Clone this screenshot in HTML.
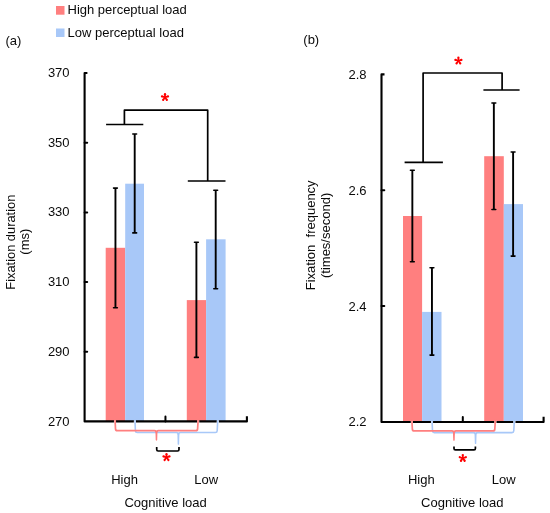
<!DOCTYPE html>
<html><head><meta charset="utf-8">
<style>
html,body{margin:0;padding:0;background:#fff;}
body{width:550px;height:513px;overflow:hidden;}
svg{display:block;will-change:transform;}
text{font-family:"Liberation Sans", sans-serif;font-size:13px;fill:#0a0a0a;}
.ax{stroke:#000;stroke-width:2.1;fill:none;stroke-linecap:butt;stroke-linejoin:round;}
.axr{stroke:#000;stroke-width:2;fill:none;stroke-linecap:round;}
.eb{stroke:#000;stroke-width:1.9;fill:none;}
.ec{stroke:#000;stroke-width:1.6;fill:none;stroke-linecap:round;}
.br{stroke:#000;stroke-width:1.7;fill:none;stroke-linejoin:round;}
.rb{fill:#ff7f7f;}
.bb{fill:#a8c8f8;}
.rl{stroke:#ff7f7f;stroke-width:1.7;fill:none;stroke-linejoin:round;}
.bl{stroke:#a8c8f8;stroke-width:1.6;fill:none;stroke-linejoin:round;}
.halo{stroke:#fff;stroke-width:2.1;fill:none;}
</style></head>
<body>
<svg width="550" height="513" viewBox="0 0 550 513">
<defs><g id="star" fill="#ff0000"><path d="M-0.6,0 L-1.15,-3.15 A1.15,1.15 0 0 1 1.15,-3.15 L0.6,0 Z" transform="rotate(0)"/><path d="M-0.6,0 L-1.15,-3.15 A1.15,1.15 0 0 1 1.15,-3.15 L0.6,0 Z" transform="rotate(72)"/><path d="M-0.6,0 L-1.15,-3.15 A1.15,1.15 0 0 1 1.15,-3.15 L0.6,0 Z" transform="rotate(144)"/><path d="M-0.6,0 L-1.15,-3.15 A1.15,1.15 0 0 1 1.15,-3.15 L0.6,0 Z" transform="rotate(216)"/><path d="M-0.6,0 L-1.15,-3.15 A1.15,1.15 0 0 1 1.15,-3.15 L0.6,0 Z" transform="rotate(288)"/><circle r="1.3"/></g></defs>
<rect x="56" y="6" width="8.5" height="8.7" class="rb"/>
<rect x="56" y="28.5" width="8.5" height="8.5" class="bb"/>
<text x="67.5" y="14.3">High perceptual load</text>
<text x="67.5" y="36.8">Low perceptual load</text>
<text x="5.5" y="45.3">(a)</text>
<text x="303.3" y="44.1">(b)</text>
<rect x="105.7" y="247.8" width="19.5" height="173.6" class="rb"/>
<rect x="125.2" y="183.7" width="18.8" height="237.7" class="bb"/>
<rect x="186.8" y="300.1" width="19.3" height="121.3" class="rb"/>
<rect x="206.1" y="239.3" width="19.5" height="182.1" class="bb"/>
<path class="ax" d="M87.4,73 H84.6 V421.4 H246.9 V416.3"/>
<path class="axr" d="M84.6,142.7 H87.2 M84.6,212.4 H87.2 M84.6,282.1 H87.2 M84.6,351.8 H87.2 M165.45,421.4 V416.4"/>
<path class="eb" d="M115.45,188.1 V307.7"/>
<path class="ec" d="M113.55,188.1 H117.35 M113.55,307.7 H117.35"/>
<path class="eb" d="M134.7,134 V232.9"/>
<path class="ec" d="M132.8,134 H136.6 M132.8,232.9 H136.6"/>
<path class="eb" d="M196.4,242.2 V357.4"/>
<path class="ec" d="M194.5,242.2 H198.3 M194.5,357.4 H198.3"/>
<path class="eb" d="M215.7,190.2 V288.7"/>
<path class="ec" d="M213.8,190.2 H217.6 M213.8,288.7 H217.6"/>
<path class="br" d="M124.4,124.5 V110.2 H207.7 V181"/>
<path class="br" d="M106.1,124.5 H143.3 M187.8,181 H225.5"/>
<use href="#star" x="165" y="97.3"/>
<path class="halo" d="M115,420.2 V423 M134.9,420.2 V423 M198.2,420.2 V423 M217.8,420.2 V423"/>
<path class="bl" d="M134.9,419.2 L135.4,430.7 Q135.5,432.5 137.2,432.5 H176.4 Q178.4,432.5 178.4,434.9 M178.4,434.9 Q178.4,432.5 180.4,432.5 H215.4 Q217.1,432.5 217.2,430.7 L217.8,419.2"/>
<path fill="#a8c8f8" d="M177.4,434.3 L177.65,444.3 Q178.4,445.4 179.15,444.3 L179.4,434.3 Z"/>
<path class="rl" d="M115,419.2 L115.5,428.9 Q115.6,430.7 117.3,430.7 H154.45 Q156.45,430.7 156.45,433.1 M156.45,433.1 Q156.45,430.7 158.45,430.7 H195.8 Q197.5,430.7 197.6,428.9 L198.2,419.2"/>
<path fill="#ff7f7f" d="M155.45,432.5 L155.7,440.1 Q156.45,441.2 157.2,440.1 L157.45,432.5 Z"/>
<path class="br" d="M156.7,447 V449.6 Q156.7,451 158.1,451 H177.6 Q179,451 179,449.6 V447"/>
<use href="#star" x="166.5" y="457.4"/>
<text x="69.6" y="77.2" text-anchor="end">370</text>
<text x="69.6" y="146.8" text-anchor="end">350</text>
<text x="69.6" y="216.4" text-anchor="end">330</text>
<text x="69.6" y="286" text-anchor="end">310</text>
<text x="69.6" y="355.6" text-anchor="end">290</text>
<text x="69.6" y="425.5" text-anchor="end">270</text>
<text transform="translate(15.1,242.2) rotate(-90)" text-anchor="middle" style="font-size:12.85px">Fixation duration</text>
<text transform="translate(28.6,241.7) rotate(-90)" text-anchor="middle">(ms)</text>
<text x="124.5" y="484" text-anchor="middle">High</text>
<text x="206.2" y="484" text-anchor="middle">Low</text>
<text x="165.6" y="507.2" text-anchor="middle">Cognitive load</text>
<rect x="403" y="216" width="19.1" height="206" class="rb"/>
<rect x="422.1" y="311.9" width="19.4" height="110.1" class="bb"/>
<rect x="484.2" y="156.2" width="19.6" height="265.8" class="rb"/>
<rect x="503.8" y="204.1" width="19.2" height="217.9" class="bb"/>
<path class="ax" d="M384.5,74.4 H381.5 V422.0 H543.6 V416.8"/>
<path class="axr" d="M381.5,190.3 H384.3 M381.5,306.1 H384.3 M462.8,422.0 V416.9"/>
<path class="eb" d="M412.35,170.3 V261.8"/>
<path class="ec" d="M410.45,170.3 H414.25 M410.45,261.8 H414.25"/>
<path class="eb" d="M431.95,267.8 V355.1"/>
<path class="ec" d="M430.05,267.8 H433.85 M430.05,355.1 H433.85"/>
<path class="eb" d="M493.85,102.95 V209.5"/>
<path class="ec" d="M491.95,102.95 H495.75 M491.95,209.5 H495.75"/>
<path class="eb" d="M513.1,152 V256.1"/>
<path class="ec" d="M511.2,152 H515 M511.2,256.1 H515"/>
<path class="br" d="M423.1,162.4 V73 H502.1 V90"/>
<path class="br" d="M404.6,162.4 H442.9 M483.4,90 H519.6"/>
<use href="#star" x="458.4" y="60.8"/>
<path class="halo" d="M411.85,420.8 V423.6 M432,420.8 V423.6 M495.4,420.8 V423.6 M514.4,420.8 V423.6"/>
<path class="bl" d="M432,419.8 L432.5,430.8 Q432.6,432.6 434.3,432.6 H473.55 Q475.55,432.6 475.55,435 M475.55,435 Q475.55,432.6 477.55,432.6 H512 Q513.7,432.6 513.8,430.8 L514.4,419.8"/>
<path fill="#a8c8f8" d="M474.55,434.4 L474.8,443.4 Q475.55,444.5 476.3,443.4 L476.55,434.4 Z"/>
<path class="rl" d="M411.85,419.8 L412.35,429.1 Q412.45,430.9 414.15,430.9 H451.95 Q453.95,430.9 453.95,433.3 M453.95,433.3 Q453.95,430.9 455.95,430.9 H493 Q494.7,430.9 494.8,429.1 L495.4,419.8"/>
<path fill="#ff7f7f" d="M452.95,432.7 L453.2,440.3 Q453.95,441.4 454.7,440.3 L454.95,432.7 Z"/>
<path class="br" d="M454,446.6 V448.4 Q454,449.8 455.4,449.8 H474 Q475.4,449.8 475.4,448.4 V446.6"/>
<use href="#star" x="462.8" y="458.2"/>
<text x="366.5" y="78.5" text-anchor="end">2.8</text>
<text x="366.5" y="194.8" text-anchor="end">2.6</text>
<text x="366.5" y="310.5" text-anchor="end">2.4</text>
<text x="366.5" y="426.4" text-anchor="end">2.2</text>
<text transform="translate(315.3,235.3) rotate(-90)" text-anchor="middle" xml:space="preserve">Fixation  frequency</text>
<text transform="translate(329.5,235.4) rotate(-90)" text-anchor="middle">(times/second)</text>
<text x="421.3" y="484.3" text-anchor="middle">High</text>
<text x="503.8" y="484.3" text-anchor="middle">Low</text>
<text x="462.3" y="507.4" text-anchor="middle">Cognitive load</text>
</svg>
</body></html>
